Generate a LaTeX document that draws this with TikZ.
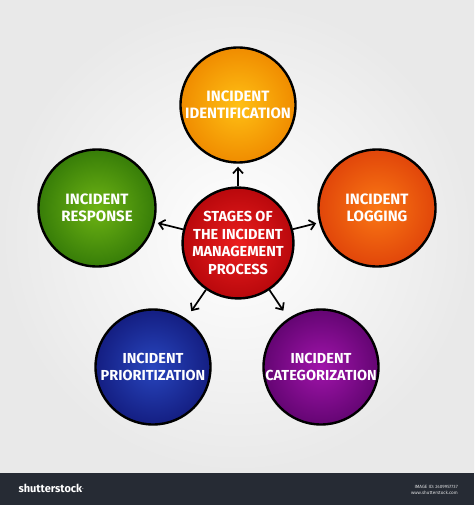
\documentclass[tikz,border=0pt]{standalone}
\usepackage{fontspec}
\setmainfont{Fira Sans}
\usetikzlibrary{arrows.meta}
\definecolor{bar}{HTML}{262B34}
\definecolor{bgout}{HTML}{E9E9E9}
\tikzset{
  stage/.style={circle, draw=black, line width=2.4pt, inner sep=0pt, minimum size=#1,
    text=white, font=\fontsize{15}{17.5}\selectfont\bfseries, align=center},
  arr/.style={line width=1.7pt, -{Straight Barb[length=5.5pt,width=10pt,line width=1.7pt]}, shorten >=3pt}
}
\begin{document}
\begin{tikzpicture}[x=1pt,y=-1pt]
\useasboundingbox (0,0) rectangle (474,505);
\shade[inner color=white, outer color=bgout] (0,0) rectangle (474,473);
\fill[bar] (0,473) rectangle (474,505);
\node[anchor=west, text=white, font=\fontsize{11}{12}\selectfont\bfseries] (ss) at (15,488.5) {shutterstock\raisebox{0.6ex}{\tiny.}};
\node[anchor=east, text=white!85!bar, font=\fontsize{4.6}{5}\selectfont, align=right, inner sep=0pt] (id) at (458,490) {IMAGE ID: 2409957737\\[1pt] www.shutterstock.com};

\node[stage=115pt, shading=radial, inner color={rgb,255:red,255;green,192;blue,20}, outer color={rgb,255:red,240;green,140;blue,0}] (top) at (238,105) {INCIDENT\\IDENTIFICATION};
\node[stage=110pt, shading=radial, inner color={rgb,255:red,235;green,30;blue,30}, outer color={rgb,255:red,185;green,8;blue,12}, font=\fontsize{14.5}{17.5}\selectfont\bfseries] (c) at (238,243) {STAGES OF\\THE INCIDENT\\MANAGEMENT\\PROCESS};
\node[stage=117pt, shading=radial, inner color={rgb,255:red,110;green,180;blue,20}, outer color={rgb,255:red,55;green,125;blue,8}] (l) at (97,208) {INCIDENT\\RESPONSE};
\node[stage=117pt, shading=radial, inner color={rgb,255:red,250;green,120;blue,20}, outer color={rgb,255:red,225;green,70;blue,10}] (r) at (377,208) {INCIDENT\\LOGGING};
\node[stage=115pt, shading=radial, inner color={rgb,255:red,40;green,70;blue,190}, outer color={rgb,255:red,20;green,30;blue,130}, font=\fontsize{14.5}{17.5}\selectfont\bfseries] (bl) at (153,367) {INCIDENT\\PRIORITIZATION};
\node[stage=115pt, shading=radial, inner color={rgb,255:red,160;green,20;blue,170}, outer color={rgb,255:red,100;green,5;blue,115}, font=\fontsize{14.5}{17.5}\selectfont\bfseries] (br) at (321,367) {INCIDENT\\CATEGORIZATION};

\draw[arr] (c) -- (top);
\draw[arr] (c) -- (l);
\draw[arr] (c) -- (r);
\draw[arr, shorten >=9pt] (c) -- (bl);
\draw[arr, shorten >=9pt] (c) -- (br);
\end{tikzpicture}
\end{document}
